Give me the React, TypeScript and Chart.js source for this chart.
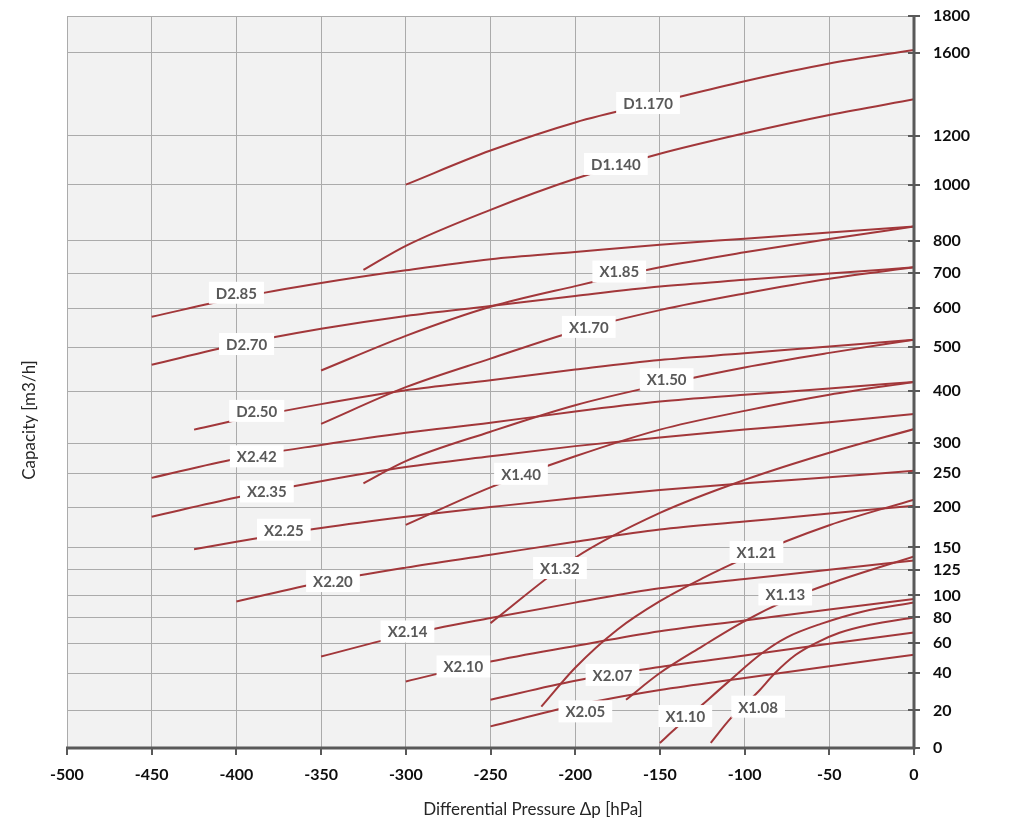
import React, { useEffect, useRef } from 'react';
import { Chart, registerables, LinearScale } from 'chart.js';

Chart.register(...registerables);

// Curve names (fan / blower models)
const seriesNames = [
  'D1.170', 'D1.140', 'D2.85', 'X1.85', 'D2.70', 'X1.70', 'D2.50', 'X1.50',
  'X2.42', 'X1.40', 'X2.35', 'X1.32', 'X2.25', 'X1.21', 'X2.20', 'X2.14',
  'X1.13', 'X2.10', 'X2.07', 'X1.10', 'X2.05', 'X1.08',
];

// Differential pressure points of each curve [hPa]
const pressures = [
  [-300, -250, -200, -150, -100, -50, 0],
  [-325, -300, -250, -200, -150, -100, -50, 0],
  [-450, -400, -350, -300, -250, -200, -150, -100, -50, 0],
  [-350, -300, -250, -200, -150, -100, -50, 0],
  [-450, -400, -350, -300, -250, -200, -150, -100, -50, 0],
  [-350, -300, -250, -200, -150, -100, -50, 0],
  [-425, -400, -350, -300, -250, -200, -150, -100, -50, 0],
  [-325, -300, -250, -200, -150, -100, -50, 0],
  [-450, -400, -350, -300, -250, -200, -150, -100, -50, 0],
  [-300, -250, -200, -150, -100, -50, 0],
  [-450, -400, -350, -300, -250, -200, -150, -100, -50, 0],
  [-250, -200, -150, -100, -50, 0],
  [-425, -400, -350, -300, -250, -200, -150, -100, -50, 0],
  [-220, -200, -175, -150, -125, -100, -50, 0],
  [-400, -350, -300, -250, -200, -150, -100, -50, 0],
  [-350, -300, -250, -200, -150, -100, -50, 0],
  [-170, -150, -125, -100, -75, -50, 0],
  [-300, -250, -200, -150, -100, -50, 0],
  [-250, -200, -150, -100, -50, 0],
  [-150, -140, -125, -110, -90, -75, -55, -30, 0],
  [-250, -200, -150, -100, -50, 0],
  [-120, -108, -92, -82, -70, -58, -44, -26, 0],
];

// Capacity points of each curve [m3/h]
const capacities = [
  [1000, 1140, 1265, 1365, 1463, 1548, 1615],
  [710, 784, 910, 1024, 1127, 1213, 1301, 1376],
  [578, 629, 672, 709, 743, 765, 787, 807, 829, 850],
  [447, 529, 604, 663, 718, 764, 806, 850],
  [460, 506, 547, 580, 606, 635, 662, 681, 699, 718],
  [337, 409, 474, 541, 595, 642, 684, 718],
  [326, 344, 375, 402, 425, 449, 471, 486, 502, 519],
  [235, 270, 322, 373, 414, 454, 487, 519],
  [243, 274, 297, 320, 339, 361, 380, 393, 406, 421],
  [178, 229, 278, 326, 362, 393, 421],
  [188, 214, 238, 260, 278, 295, 311, 326, 340, 356],
  [75.6, 138.5, 192.8, 240, 284, 327],
  [148, 157, 174, 188, 200, 213.5, 225, 235, 244, 254],
  [22, 43.5, 70.6, 94.8, 116.6, 137.8, 177.6, 211],
  [94.5, 112.6, 127.4, 141.9, 157.2, 172.2, 182.1, 192, 202],
  [51, 66.4, 79.6, 93.5, 107, 116, 125, 135.4],
  [25.7, 40, 57.8, 77.1, 95.7, 111.4, 140],
  [35.5, 47.7, 58.1, 69.3, 77.7, 87.2, 96.7],
  [25.7, 35.9, 44, 51.7, 59.5, 68.3],
  [2.7, 11, 23, 35, 53, 64.5, 75, 85.5, 93.6],
  [11.5, 22.6, 30.9, 37.3, 44.5, 52.2],
  [2.7, 16, 30, 40, 52, 60, 68, 74.3, 80],
];

// Where each curve name tag sits (pressure, capacity)
const labelPressure = [
  -157, -176, -400, -174, -394, -192, -388, -146, -388, -232, -382,
  -209, -372, -93, -343, -299, -76, -266, -178, -135, -194, -92,
];
const labelCapacity = [
  1358, 1085, 644, 705, 508, 552, 362, 427, 278, 249, 223,
  127, 172, 145, 114, 69, 101, 44.4, 39, 17, 19.5, 22,
];

// Capacity axis: tick values and the share of axis height at which each one sits
const capacityTicks = [0, 20, 40, 60, 80, 100, 125, 150, 200, 250, 300, 400, 500, 600, 700, 800, 1000, 1200, 1600, 1800];
const capacityAxisShare = [
  0, 0.05134, 0.10242, 0.14338, 0.17834, 0.20838, 0.24348, 0.27393, 0.3291, 0.37553,
  0.4165, 0.48751, 0.54759, 0.60085, 0.64864, 0.69316, 0.76963, 0.83613, 0.94988, 1,
];

const CURVE_COLOR = '#a2373a';
const AXIS_COLOR = '#595959';
const FONT = 'Lato, "Open Sans", sans-serif';

function capacityToShare(v: number): number {
  const s = capacityTicks;
  const f = capacityAxisShare;
  if (v <= s[0]) return f[0];
  for (let i = 1; i < s.length; i++) {
    if (v <= s[i]) return f[i - 1] + ((v - s[i - 1]) / (s[i] - s[i - 1])) * (f[i] - f[i - 1]);
  }
  return f[f.length - 1];
}

function shareToCapacity(t: number): number {
  const s = capacityTicks;
  const f = capacityAxisShare;
  if (t <= f[0]) return s[0];
  for (let i = 1; i < f.length; i++) {
    if (t <= f[i]) return s[i - 1] + ((t - f[i - 1]) / (f[i] - f[i - 1])) * (s[i] - s[i - 1]);
  }
  return s[s.length - 1];
}

// Non-uniform capacity scale, stretched at the low end
class CapacityScale extends LinearScale {
  static id = 'capacity';
  static defaults = LinearScale.defaults;
  buildTicks() {
    return capacityTicks.map((value) => ({ value }));
  }
  getPixelForValue(value: number) {
    return this.getPixelForDecimal(capacityToShare(value));
  }
  getValueForPixel(pixel: number) {
    return shareToCapacity(this.getDecimalForPixel(pixel));
  }
}
Chart.register(CapacityScale);

const plotBackground = {
  id: 'plotBackground',
  beforeDraw(chart: any) {
    const { ctx, chartArea: a } = chart;
    ctx.save();
    ctx.fillStyle = '#f2f2f2';
    ctx.fillRect(a.left, a.top, a.right - a.left, a.bottom - a.top);
    ctx.restore();
  },
};

const curveLabels = {
  id: 'curveLabels',
  afterDatasetsDraw(chart: any) {
    const { ctx, scales } = chart;
    const x = scales.x;
    const y = scales.y;
    ctx.save();
    ctx.font = `bold 15px ${FONT}`;
    ctx.textAlign = 'center';
    ctx.textBaseline = 'middle';
    seriesNames.forEach((name, i) => {
      const px = x.getPixelForValue(labelPressure[i]);
      const py = y.getPixelForValue(labelCapacity[i]);
      const w = ctx.measureText(name).width + 14;
      const h = 22;
      ctx.fillStyle = '#ffffff';
      ctx.fillRect(px - w / 2, py - h / 2, w, h);
      ctx.fillStyle = '#595959';
      ctx.fillText(name, px, py + 1);
    });
    ctx.restore();
  },
};

const axesAndTitles = {
  id: 'axesAndTitles',
  afterDraw(chart: any) {
    const { ctx, chartArea: a, scales } = chart;
    const x = scales.x;
    const y = scales.y;
    ctx.save();
    ctx.strokeStyle = AXIS_COLOR;
    ctx.lineWidth = 3;
    ctx.beginPath();
    ctx.moveTo(a.right, a.top);
    ctx.lineTo(a.right, a.bottom + 1.5);
    ctx.moveTo(a.left - 1, a.bottom);
    ctx.lineTo(a.right, a.bottom);
    ctx.stroke();

    ctx.lineWidth = 2;
    ctx.beginPath();
    y.ticks.forEach((t: any) => {
      const py = Math.round(y.getPixelForValue(t.value));
      ctx.moveTo(a.right - 6, py);
      ctx.lineTo(a.right + 6, py);
    });
    x.ticks.forEach((t: any) => {
      const px = Math.round(x.getPixelForValue(t.value));
      ctx.moveTo(px, a.bottom);
      ctx.lineTo(px, a.bottom + 7);
    });
    ctx.stroke();

    ctx.fillStyle = '#262626';
    ctx.font = `17px ${FONT}`;
    ctx.textAlign = 'center';
    ctx.textBaseline = 'middle';
    ctx.fillText('Differential Pressure Δp [hPa]', 533, 810);
    ctx.translate(30, 420);
    ctx.rotate(-Math.PI / 2);
    ctx.fillText('Capacity [m3/h]', 0, 0);
    ctx.restore();
  },
};

export default function App() {
  const canvasRef = useRef<HTMLCanvasElement | null>(null);

  useEffect(() => {
    const canvas = canvasRef.current;
    if (!canvas) return;
    const chart = new Chart(canvas, {
      type: 'line',
      data: {
        datasets: seriesNames.map((name, i) => ({
          label: name,
          data: pressures[i].map((p, j) => ({ x: p, y: capacities[i][j] })),
          borderColor: CURVE_COLOR,
          backgroundColor: CURVE_COLOR,
          borderWidth: 2,
          pointRadius: 0,
          fill: false,
          cubicInterpolationMode: 'monotone',
        })),
      },
      options: {
        responsive: false,
        animation: false,
        layout: { padding: { left: 67, top: 16, right: 0, bottom: 0 } },
        plugins: {
          legend: { display: false },
          tooltip: { enabled: false },
        },
        scales: {
          x: {
            type: 'linear',
            min: -500,
            max: 0,
            afterFit(scale: any) {
              scale.height = 91;
              scale.paddingLeft = 0;
              scale.paddingRight = 0;
            },
            ticks: {
              stepSize: 50,
              autoSkip: false,
              maxRotation: 0,
              padding: 17,
              color: '#0d0d0d',
              font: { family: FONT, weight: 'bold', size: 16 },
              callback: (v: any) => String(v),
            },
            grid: { color: '#ababab', lineWidth: 1, drawTicks: false },
            border: { display: false },
          },
          y: {
            type: 'capacity',
            position: 'right',
            min: 0,
            max: 1800,
            afterFit(scale: any) {
              scale.width = 110;
              scale.paddingTop = 0;
              scale.paddingBottom = 0;
            },
            ticks: {
              autoSkip: false,
              padding: 19,
              color: '#0d0d0d',
              font: { family: FONT, weight: 'bold', size: 16 },
              callback: (v: any) => String(v),
            },
            grid: { color: '#ababab', lineWidth: 1, drawTicks: false },
            border: { display: false },
          },
        },
      } as any,
      plugins: [plotBackground, curveLabels, axesAndTitles],
    });
    return () => chart.destroy();
  }, []);

  return (
    <div style={{ position: 'fixed', left: 0, top: 0, width: 1024, height: 839, background: '#ffffff' }}>
      <canvas ref={canvasRef} width={1024} height={839} />
    </div>
  );
}
